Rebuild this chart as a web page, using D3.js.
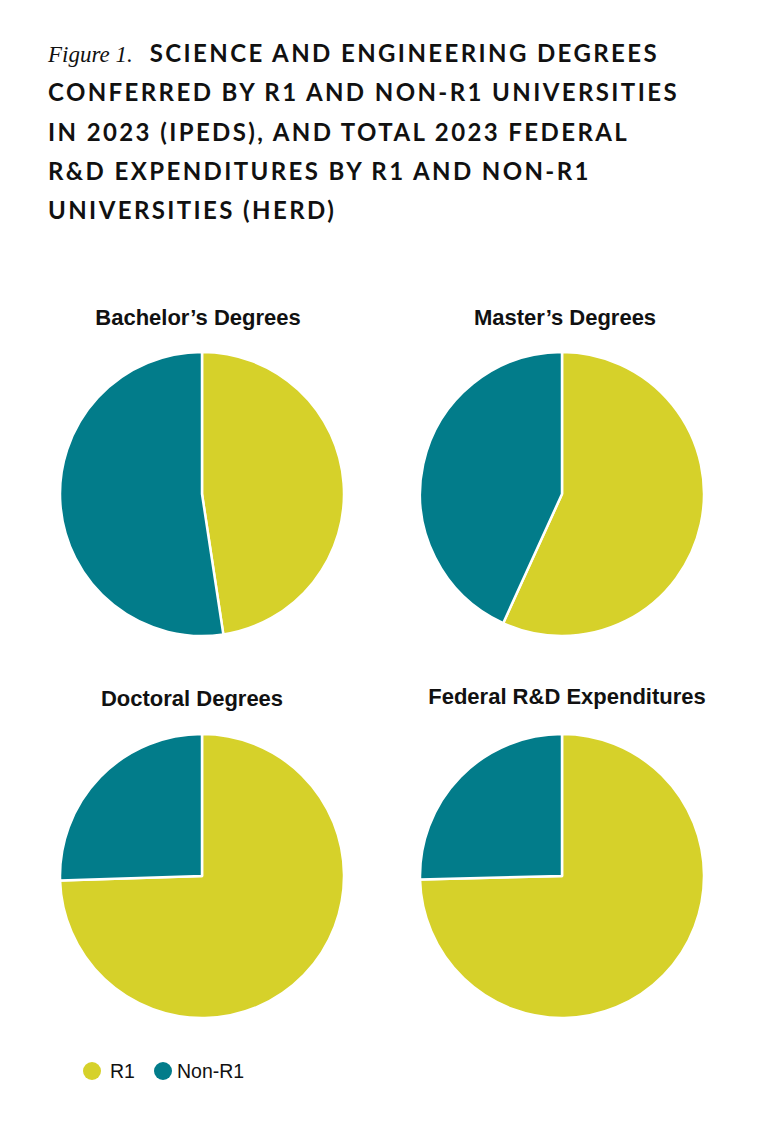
<!DOCTYPE html>
<html>
<head>
<meta charset="utf-8">
<script src="https://cdn.jsdelivr.net/npm/d3@7"></script>
<style>
  body { margin: 0; background: #fff; }
  svg { display: block; }
</style>
</head>
<body>
<div id="container"></div>
<script>
// data (percent of total)
let panels = ["Bachelor\u2019s Degrees", "Master\u2019s Degrees", "Doctoral Degrees", "Federal R&D Expenditures"];
let groups = ["R1", "Non-R1"];
let r1Share = [47.6, 56.8, 74.5, 74.6];
let nonR1Share = [52.4, 43.2, 25.5, 25.4];
let titleLines = [
  "SCIENCE AND ENGINEERING DEGREES",
  "CONFERRED BY R1 AND NON-R1 UNIVERSITIES",
  "IN 2023 (IPEDS), AND TOTAL 2023 FEDERAL",
  "R&D EXPENDITURES BY R1 AND NON-R1",
  "UNIVERSITIES (HERD)"
];

let w = 768;
let h = 1124;
let viz = d3.select("#container")
  .append("svg")
    .attr("width", w)
    .attr("height", h)
;

let color = d3.scaleOrdinal().domain(groups).range(["#d6d12a", "#027c8a"]);

// title
let title = viz.append("g").attr("class", "title");
titleLines.forEach(function(line, i){
  let t = title.append("text")
    .attr("x", 48)
    .attr("y", 62 + i * 39.3)
    .style("font-family", "Lato, 'Open Sans', sans-serif")
    .style("font-weight", 700)
    .style("font-size", "24px")
    .style("letter-spacing", "2.4px")
    .attr("fill", "#111");
  if(i == 0){
    // italic serif label, then the caps heading
    t.append("tspan")
      .style("font-family", "'Liberation Serif', serif")
      .style("font-style", "italic")
      .style("font-weight", 400)
      .style("letter-spacing", "0px")
      .style("font-size", "23px")
      .text("Figure 1.");
    t.append("tspan").attr("dx", 17).text(line);
  }else{
    t.text(line);
  }
});

// pie grid: 2 columns x 2 rows
let xCol = d3.scalePoint().domain([0, 1]).range([202, 562]);
let yRow = d3.scalePoint().domain([0, 1]).range([494, 876]);
let radius = 142;

let pie = d3.pie().sort(null).value(function(d){ return d.value; });
let arc = d3.arc().innerRadius(0).outerRadius(radius);

let pieData = panels.map(function(p, i){
  return {
    name: p,
    col: i % 2,
    row: Math.floor(i / 2),
    slices: [
      {group: "R1", value: r1Share[i]},
      {group: "Non-R1", value: nonR1Share[i]}
    ]
  };
});

let titleDx = [-4, 3, -10, 5];
let titleY = [-169, -169, -170, -172];

let panelGroups = viz.selectAll(".panel").data(pieData).enter()
  .append("g")
    .attr("class", "panel")
    .attr("transform", function(d){
      return "translate(" + xCol(d.col) + "," + yRow(d.row) + ")";
    })
;

panelGroups.append("text")
  .attr("x", function(d, i){ return titleDx[i]; })
  .attr("y", function(d, i){ return titleY[i]; })
  .attr("text-anchor", "middle")
  .style("font-family", "'Liberation Sans', Arial, sans-serif")
  .style("font-weight", 700)
  .style("font-size", "22px")
  .attr("fill", "#111")
  .text(function(d){ return d.name; });

panelGroups.selectAll(".slice").data(function(d){ return pie(d.slices); }).enter()
  .append("path")
    .attr("class", "slice")
    .attr("d", arc)
    .attr("fill", function(d){ return color(d.data.group); })
    .attr("stroke", "#fff")
    .attr("stroke-width", 2.5)
    .attr("stroke-linejoin", "round")
;

// legend
let legendX = [92, 163];
let legend = viz.append("g").attr("class", "legend");
let items = legend.selectAll(".item").data(groups).enter()
  .append("g")
    .attr("class", "item")
    .attr("transform", function(d, i){ return "translate(" + legendX[i] + ",1071)"; })
;
items.append("circle")
  .attr("r", 9)
  .attr("fill", function(d){ return color(d); });
items.append("text")
  .attr("x", function(d, i){ return i == 0 ? 18 : 14; })
  .attr("y", 7)
  .style("font-family", "'Liberation Sans', Arial, sans-serif")
  .style("font-size", "19.5px")
  .attr("fill", "#111")
  .text(function(d){ return d; });
</script>
</body>
</html>
